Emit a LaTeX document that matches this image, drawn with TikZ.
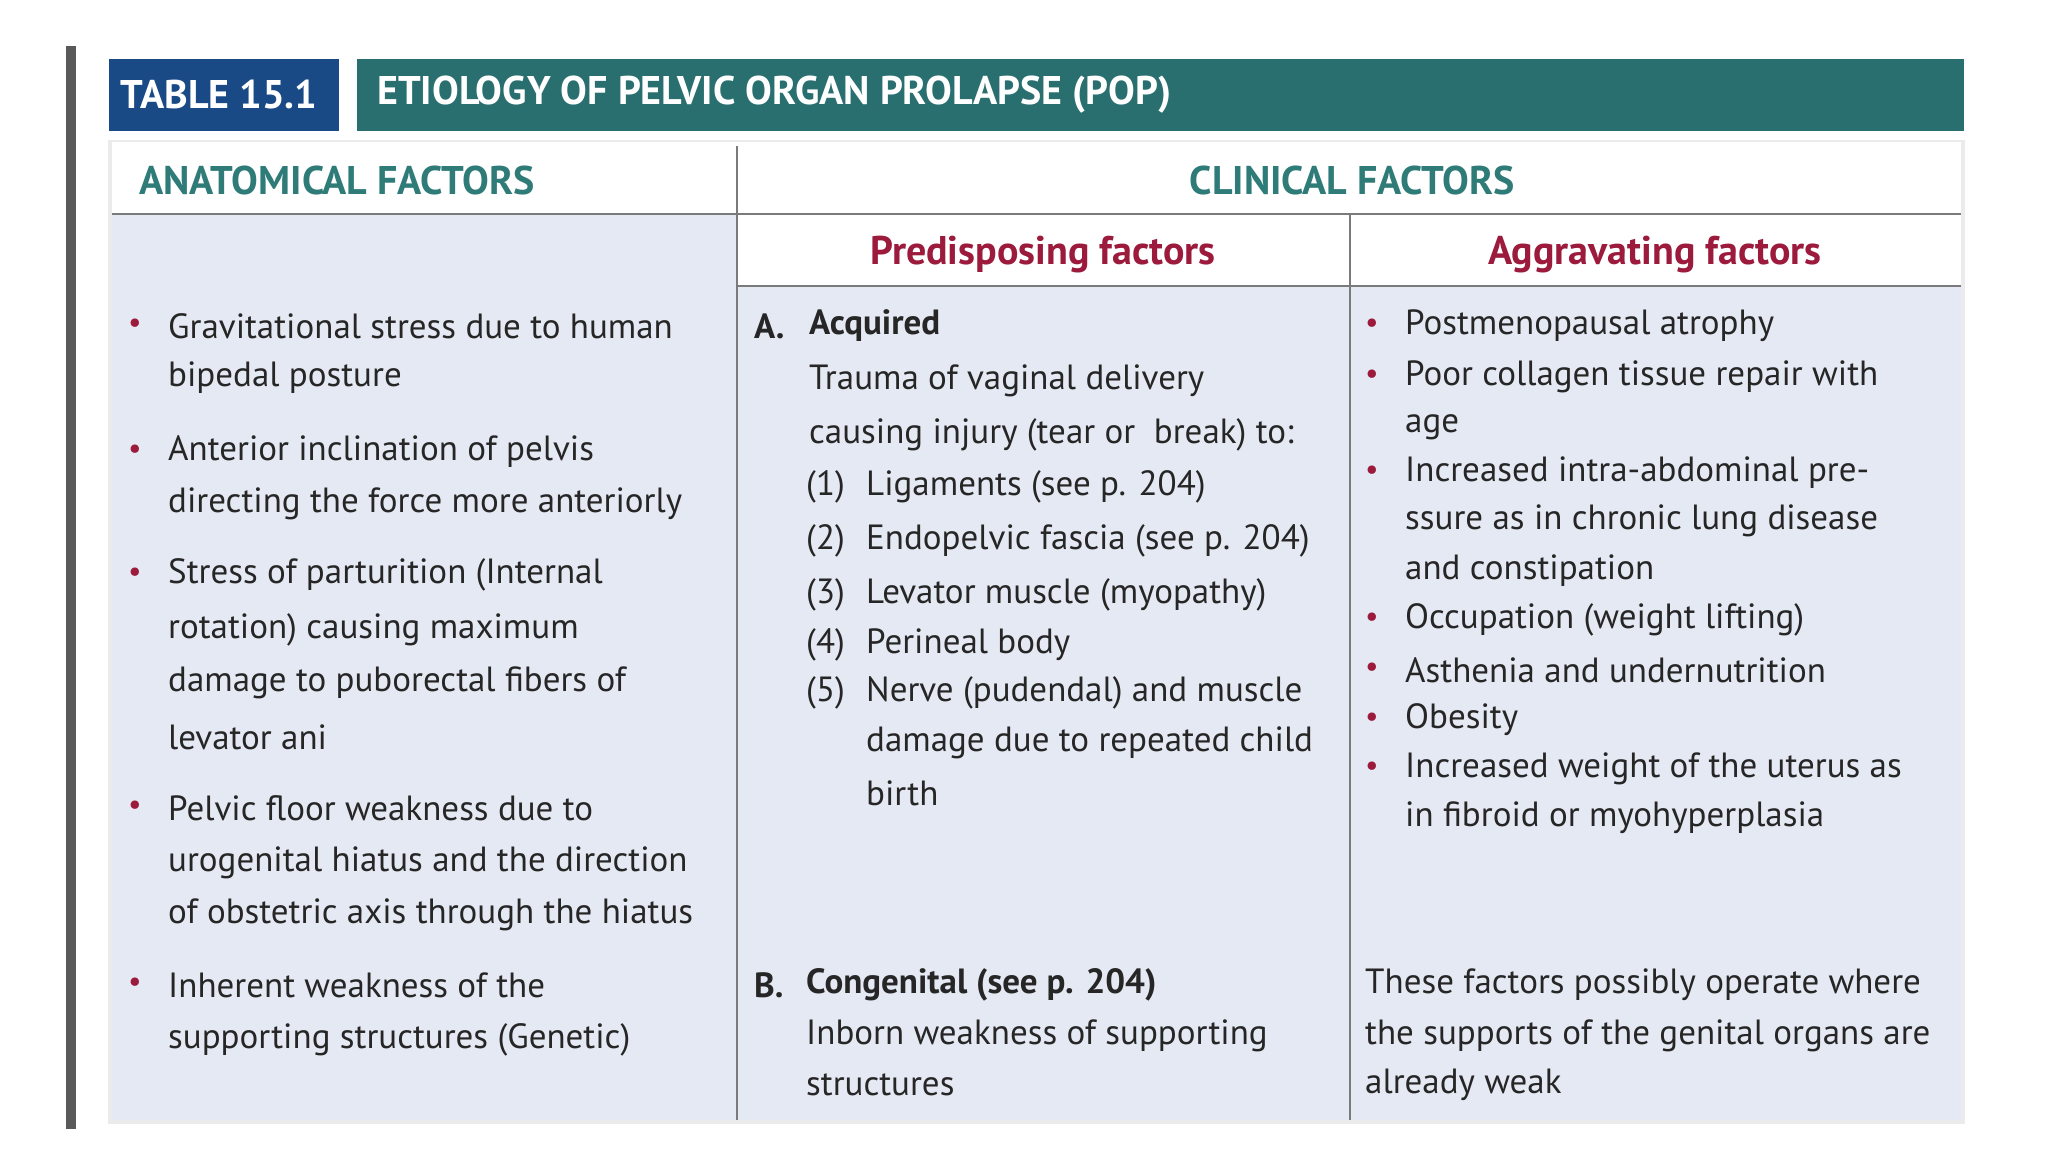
\documentclass[tikz,border=0pt]{standalone}
\usepackage{fontspec}
\setmainfont{PT Sans}
\definecolor{navy}{HTML}{1A4A86}
\definecolor{tealh}{HTML}{2A6F70}
\definecolor{tealt}{HTML}{2E7B78}
\definecolor{redt}{HTML}{9C1A3C}
\definecolor{bodybg}{HTML}{E5E9F3}
\definecolor{rule}{HTML}{7A7A7A}
\tikzset{
 txt/.style={anchor=west,inner sep=0pt,font=\fontsize{35}{40}\selectfont,text=black!85},
 bul/.style={anchor=center,inner sep=0pt,font=\fontsize{30}{36}\selectfont,text=redt},
 hd/.style={inner sep=0pt,font=\fontsize{40}{46}\selectfont\bfseries},
}
\begin{document}
\begin{tikzpicture}[x=1pt,y=-1pt]
\useasboundingbox (0,0) rectangle (2048,1152);
\fill[white] (0,0) rectangle (2048,1152);
\fill[black!65] (66,46) rectangle (76,1129);
% header bars
\fill[navy] (109,59) rectangle (339,131);
\fill[tealh] (357,59) rectangle (1964,131);
\node[hd,text=white,anchor=center] (tab) at (219,95) {TABLE 15.1};
\node[hd,text=white,anchor=west] (title) at (377,95) {ETIOLOGY OF PELVIC ORGAN PROLAPSE (POP)};
% body
\fill[black!8] (108,140) rectangle (1965,1124);
\fill[white] (112,142) rectangle (1961,1120);
\fill[bodybg] (112,214) rectangle (737,1120);
\fill[bodybg] (737,286) rectangle (1961,1120);
\draw[rule,line width=1.5] (112,214) -- (1961,214);
\draw[rule,line width=1.5] (737,286) -- (1961,286);
\draw[rule,line width=1.5] (737,146) -- (737,1120);
\draw[rule,line width=1.5] (1350,214) -- (1350,1120);
\node[hd,text=tealt,anchor=west] (anat) at (139,180) {ANATOMICAL FACTORS};
\node[hd,text=tealt] (clin) at (1352,180) {CLINICAL FACTORS};
\node[hd,text=redt] (pred) at (1043,255) {Predisposing factors};
\node[hd,text=redt] (aggr) at (1655,255) {Aggravating factors};
% left column
\foreach \y in {326,452,575,808,985} \node[bul] at (135,\y) {•};
\foreach \y/\t in {326/Gravitational stress due to human,378/bipedal posture,
 452/Anterior inclination of pelvis,504/directing the force more anteriorly,
 575/Stress of parturition (Internal,630/rotation) causing maximum,683/damage to puborectal fibers of,737/levator ani,
 808/Pelvic floor weakness due to,863/urogenital hiatus and the direction,915/of obstetric axis through the hiatus,
 985/Inherent weakness of the,1040/supporting structures (Genetic)}
 \node[txt] at (168,\y) {\t};
% middle column
\node[txt,font=\fontsize{35}{40}\selectfont\bfseries] (A) at (754,326) {A.};
\node[txt,font=\fontsize{35}{40}\selectfont\bfseries] (acq) at (809,326) {Acquired};
\node[txt] at (809,381) {Trauma of vaginal delivery};
\node[txt] at (809,435) {causing injury (tear or\ \ break) to:};
\foreach \y/\n/\t in {487/1/Ligaments (see p. 204),541/2/Endopelvic fascia (see p. 204),595/3/Levator muscle (myopathy),645/4/Perineal body,693/5/Nerve (pudendal) and muscle}
 {\node[txt] at (806,\y) {(\n)}; \node[txt] at (866,\y) {\t};}
\node[txt] at (866,743) {damage due to repeated child};
\node[txt] at (866,793) {birth};
\node[txt,font=\fontsize{35}{40}\selectfont\bfseries] (B) at (754,985) {B.};
\node[txt,font=\fontsize{35}{40}\selectfont\bfseries] (cong) at (806,985) {Congenital (see p. 204)};
\node[txt] at (806,1036) {Inborn weakness of supporting};
\node[txt] at (806,1085) {structures};
% right column
\foreach \y in {326,377,473,620,670,720,769} \node[bul] at (1372,\y) {•};
\foreach \y/\t in {326/Postmenopausal atrophy,377/Poor collagen tissue repair with,427/age,
 473/Increased intra-abdominal pre-,521/ssure as in chronic lung disease,571/and constipation,
 620/Occupation (weight lifting),670/Asthenia and undernutrition,720/Obesity,
 769/Increased weight of the uterus as,818/in fibroid or myohyperplasia}
 \node[txt] at (1405,\y) {\t};
\node[txt] at (1365,985) {These factors possibly operate where};
\node[txt] at (1365,1036) {the supports of the genital organs are};
\node[txt] at (1365,1085) {already weak};
\end{tikzpicture}
\end{document}
